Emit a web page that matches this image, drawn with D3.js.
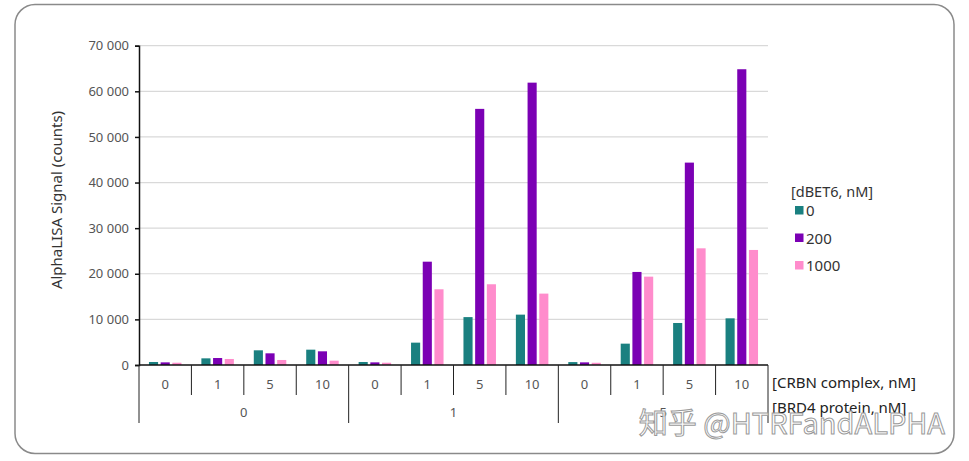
<!DOCTYPE html>
<html><head><meta charset="utf-8">
<script src="https://cdn.jsdelivr.net/npm/d3@7"></script>
<style>body{margin:0;background:#fff;font-family:"Noto Sans",Roboto,sans-serif}</style>
</head><body><svg id="c" width="969" height="461"></svg>
<script>
const groups = ["0","1","5"];
const crbn = ["0","1","5","10"];
const series = ["0","200","1000"];
const colors = ["#1a8080","#7b00b4","#ff8ccc"];
// values per group x crbn, per series
const v0 = [660,1460,3220,3360, 660,4900,10500,11040, 640,4680,9210,10230];
const v200 = [580,1530,2560,3000, 580,22650,56150,61900, 580,20400,44370,64840];
const v1000 = [500,1320,1100,950, 500,16600,17700,15650, 490,19370,25580,25220];
const yTicks = [0,10000,20000,30000,40000,50000,60000,70000];
const tickLabels = ["0","10 000","20 000","30 000","40 000","50 000","60 000","70 000"];
const vals = [v0,v200,v1000];

const svg = d3.select("#c");
const L=139, R=768, T=45.7, B=365;
const cats = [];
groups.forEach(g=>crbn.forEach(c=>cats.push(g+"|"+c)));
const x0 = d3.scaleBand().domain(cats).range([L,R]).padding(0);
const bw = x0.bandwidth();
const x1 = d3.scaleBand().domain(series).range([bw*0.19, bw*0.81]).paddingInner(0.22).paddingOuter(0);
const y = d3.scaleLinear().domain([0,70000]).range([B,T]);

// border
svg.append("rect").attr("x",15).attr("y",4.5).attr("width",939).attr("height",449).attr("rx",20)
  .attr("fill","none").attr("stroke","#8a8a8a").attr("stroke-width",1.5);

// gridlines
svg.append("g").selectAll("line").data(yTicks.slice(1)).join("line")
  .attr("x1",L).attr("x2",R).attr("y1",d=>y(d)).attr("y2",d=>y(d))
  .attr("stroke","#d9d9d9").attr("stroke-width",1.2);

// y axis
const ya = svg.append("g").attr("transform",`translate(${L},0)`)
  .call(d3.axisLeft(y).tickValues(yTicks).tickFormat((d,i)=>tickLabels[i]).tickSize(4).tickPadding(6));
ya.select(".domain").attr("stroke","#111").attr("stroke-width",1.5);
ya.selectAll(".tick line").attr("stroke","#111").attr("stroke-width",1.5);
ya.selectAll("text").attr("font-size",13).attr("fill","#555").attr("font-family","'Noto Sans',sans-serif");

svg.append("text").attr("transform","translate(62,200) rotate(-90)").attr("text-anchor","middle")
  .attr("font-size",15).attr("fill","#333").text("AlphaLISA Signal (counts)");

// bars
const gb = svg.append("g");
cats.forEach((c,i)=>{
  series.forEach((s,j)=>{
    gb.append("rect").attr("x",x0(c)+x1(s)).attr("y",y(vals[j][i]))
      .attr("width",x1.bandwidth()).attr("height",B-y(vals[j][i])).attr("fill",colors[j]);
  });
});

// x axis baseline
svg.append("line").attr("x1",L).attr("x2",R).attr("y1",B).attr("y2",B).attr("stroke","#111").attr("stroke-width",1.5);

// category separators
const sep = svg.append("g").attr("stroke","#222").attr("stroke-width",1);
cats.forEach((c,i)=>{
  if(i%4!==0) sep.append("line").attr("x1",x0(c)).attr("x2",x0(c)).attr("y1",B).attr("y2",395);
});
[0,4,8].forEach(i=>sep.append("line").attr("x1",x0(cats[i])).attr("x2",x0(cats[i])).attr("y1",B).attr("y2",423));
sep.append("line").attr("x1",R).attr("x2",R).attr("y1",B).attr("y2",423);

// category labels
svg.append("g").selectAll("text").data(cats).join("text")
  .attr("x",d=>x0(d)+bw/2).attr("y",389).attr("text-anchor","middle")
  .attr("font-size",13).attr("fill","#555").text(d=>d.split("|")[1]);
// group labels
svg.append("g").selectAll("text").data(groups).join("text")
  .attr("x",(d,i)=>x0(cats[i*4])+bw*2).attr("y",417).attr("text-anchor","middle")
  .attr("font-size",13).attr("fill","#555").text(d=>d);

svg.append("text").attr("x",772).attr("y",388).attr("font-size",15).attr("fill","#222").text("[CRBN complex, nM]");
svg.append("text").attr("x",772).attr("y",413).attr("font-size",15).attr("fill","#222").text("[BRD4 protein, nM]");

// legend
svg.append("text").attr("x",791).attr("y",196.5).attr("font-size",14.5).attr("fill","#333").text("[dBET6, nM]");
const ly = [210.5,238,265.5];
series.forEach((s,j)=>{
  svg.append("rect").attr("x",795).attr("y",ly[j]-4.5).attr("width",8.5).attr("height",8.5).attr("fill",colors[j]);
  svg.append("text").attr("x",806).attr("y",ly[j]+5.5).attr("font-size",15).attr("fill","#333").text(s);
});

// watermark
svg.append("text").attr("x",945).attr("y",434).attr("text-anchor","end")
  .attr("font-size",29).attr("font-family","'Noto Sans CJK SC','Noto Sans',sans-serif")
  .attr("fill","rgba(255,255,255,0.85)").attr("stroke","#9a9a9a").attr("stroke-width",1)
  .text("知乎 @HTRFandALPHA");
</script></body></html>
